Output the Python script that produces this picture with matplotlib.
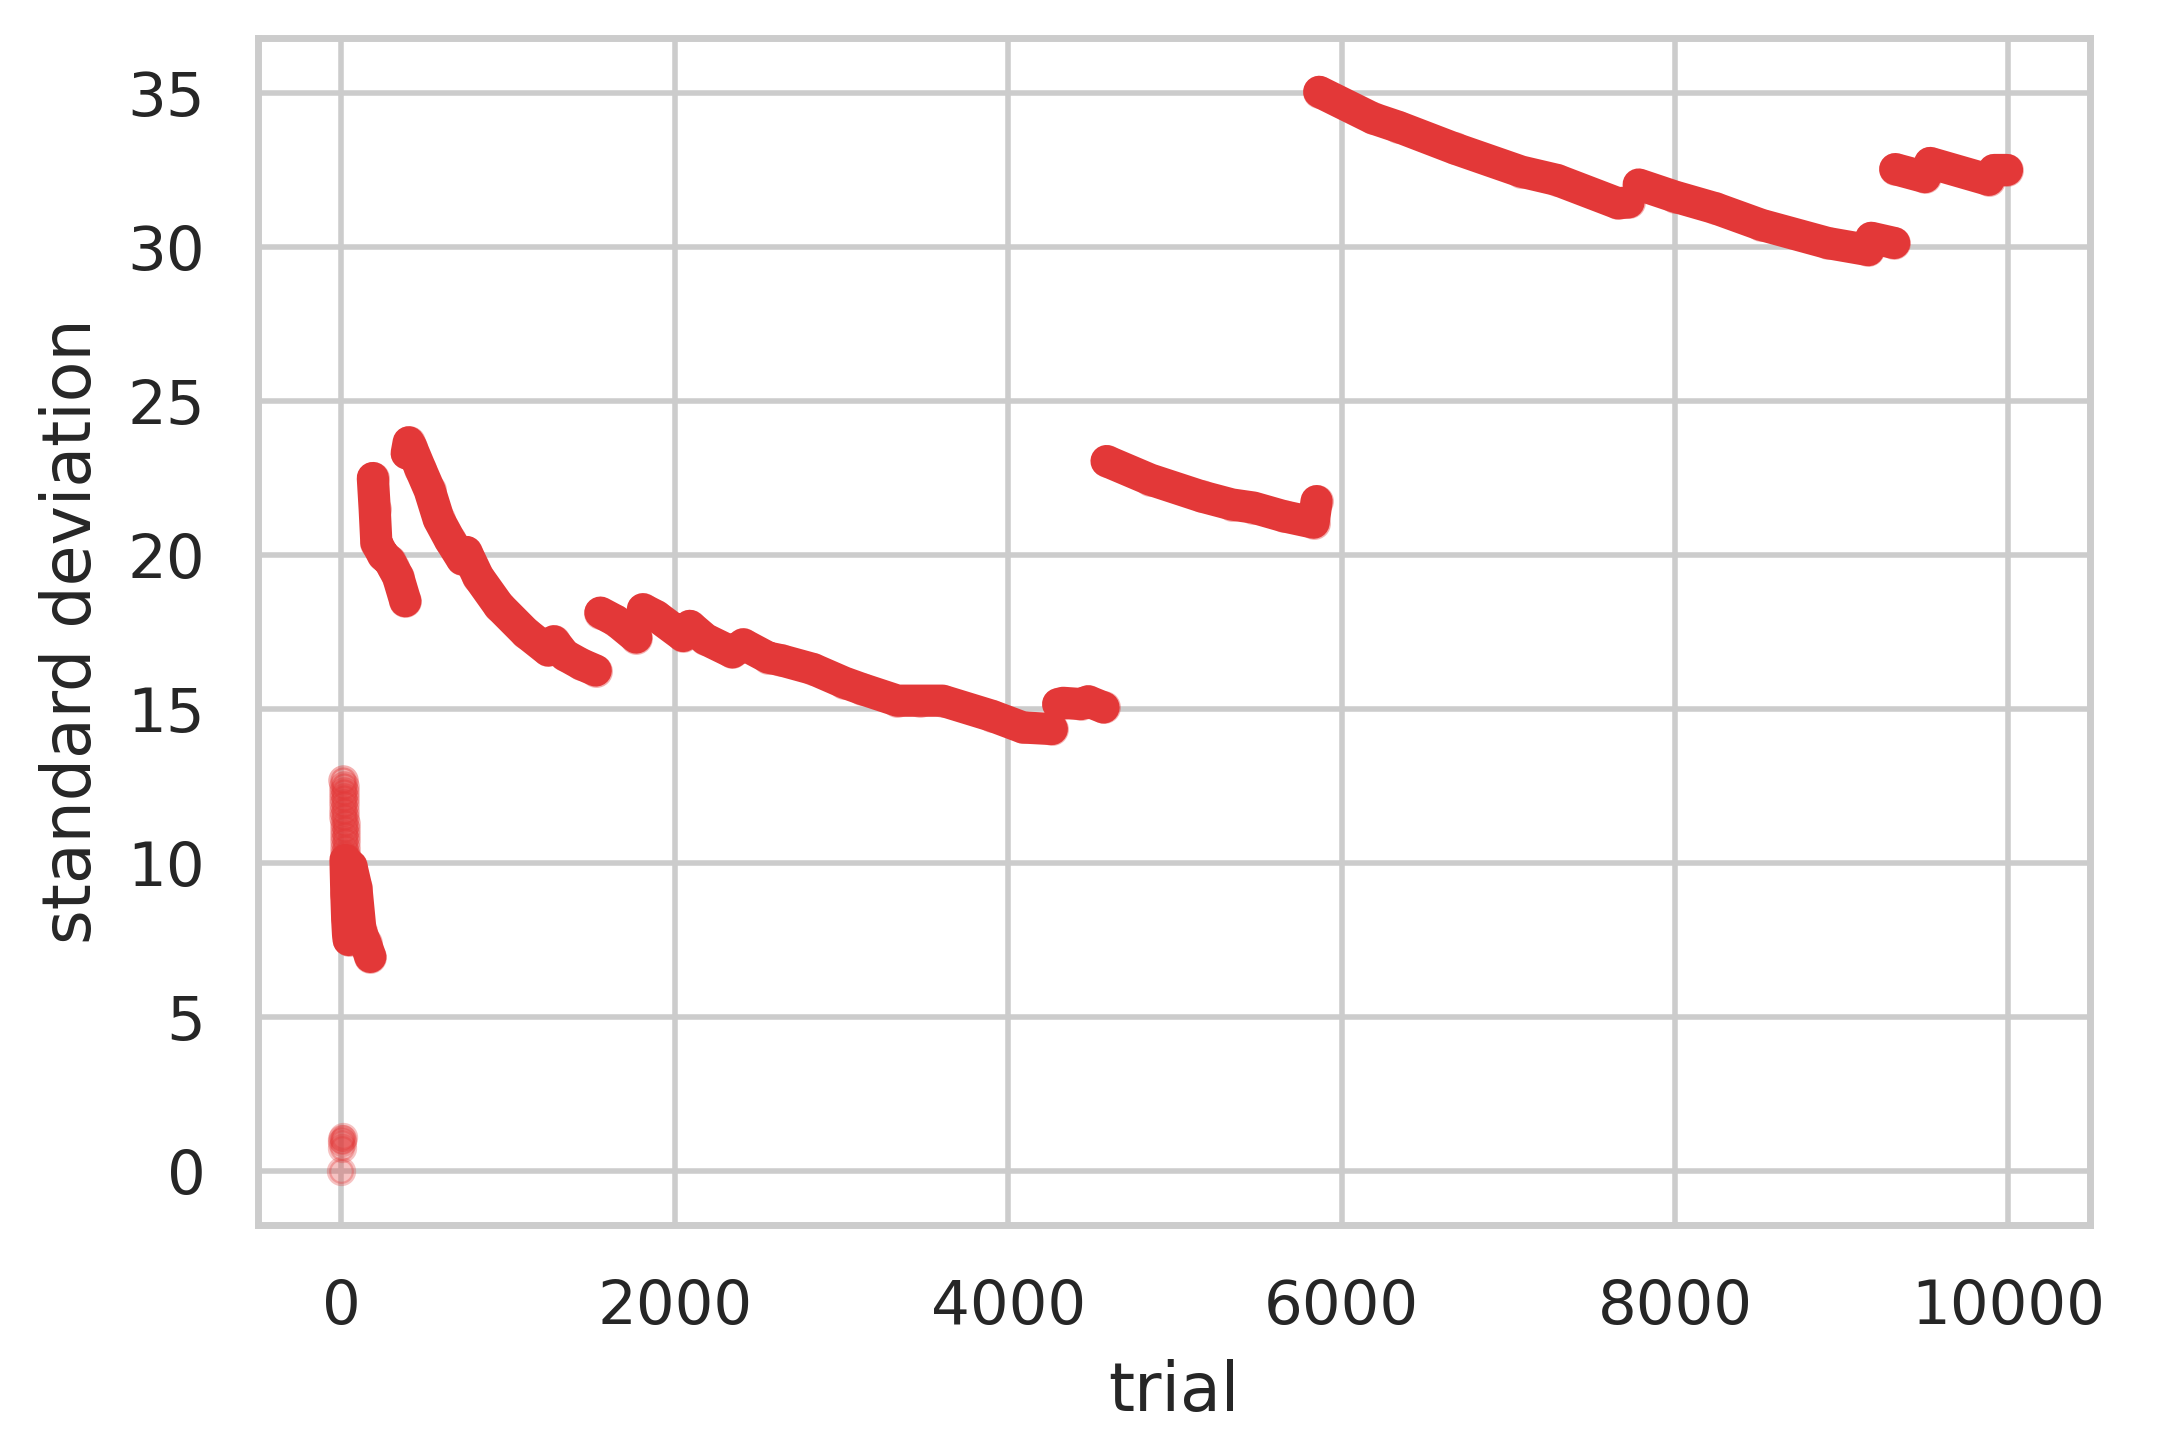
import matplotlib
matplotlib.use("Agg")
import matplotlib.pyplot as plt
import seaborn as sns

sns.set_theme(style="whitegrid")
plt.rcParams['font.family'] = ['DejaVu Sans']

RED = '#e33838'

# very first trials (std close to zero)
start_trial = [0, 2, 4, 6, 8]
start_std = [0.0, 0.75, 0.95, 1.05, 1.1]

# sparse points while the std falls fast after the first jump
drop_trial = [12, 13, 14, 15, 16, 17, 18, 19, 20, 21, 22, 23, 24]
drop_std = [12.7, 12.5, 12.3, 12.1, 11.9, 11.7, 11.5, 11.3, 11.1, 10.9, 10.7, 10.5, 10.3]

# runs between jumps (trial, std)
runs_trial = [
    [25, 30, 35, 40, 44],
    [60, 90, 115, 145, 174],
    [189, 200, 210, 250, 290, 310, 340, 384],
    [392, 404, 420, 474, 530, 584, 650, 724, 750, 820, 945, 1105, 1240, 1275, 1340,
     1440, 1526],
    [1554, 1648, 1769],
    [1809, 1888, 2050, 2090, 2183, 2346, 2411, 2560, 2640, 2828, 3015, 3123,
     3336, 3471, 3606, 3901, 4088, 4262],
    [4300, 4330, 4436, 4480, 4572],
    [4590, 4851, 5161, 5342, 5471, 5652, 5832, 5850],
    [5866, 6187, 6341, 6678, 7077, 7290, 7657, 7721],
    [7782, 7997, 8241, 8517, 8916, 9160],
    [9177, 9315],
    [9321, 9499],
    [9530, 9882],
    [9912, 9990],
]
runs_std = [
    [10.1, 9.0, 8.2, 7.7, 7.5],
    [9.9, 9.2, 7.8, 7.4, 6.95],
    [22.5, 21.5, 20.4, 20.0, 19.8, 19.6, 19.3, 18.5],
    [23.3, 23.66, 23.5, 22.8, 22.1, 21.16, 20.5, 19.86, 20.1, 19.3, 18.35, 17.48, 16.9,
     17.2, 16.75, 16.45, 16.25],
    [18.13, 17.86, 17.32],
    [18.24, 18.02, 17.37, 17.7, 17.27, 16.84, 17.1, 16.67, 16.58, 16.3, 15.86, 15.65,
     15.27, 15.27, 15.27, 14.78, 14.4, 14.35],
    [15.16, 15.2, 15.16, 15.25, 15.05],
    [23.05, 22.45, 21.9, 21.64, 21.54, 21.26, 21.05, 21.75],
    [35.04, 34.18, 33.9, 33.2, 32.45, 32.18, 31.42, 31.45],
    [32.03, 31.64, 31.26, 30.72, 30.13, 29.9],
    [30.3, 30.13],
    [32.53, 32.27],
    [32.73, 32.18],
    [32.5, 32.5],
]

fig, ax = plt.subplots(figsize=(5.44, 3.64), dpi=400)
fig.subplots_adjust(left=0.1186, right=0.9605, bottom=0.1587, top=0.974)

ax.scatter(start_trial, start_std, s=20, color=RED, alpha=0.3, linewidths=0.8)
ax.scatter(drop_trial, drop_std, s=22, color=RED, alpha=0.4, linewidths=0.8)

for t, v in zip(runs_trial, runs_std):
    ax.plot(t, v, color=RED, lw=5.8, solid_capstyle='round', solid_joinstyle='round')
    ax.scatter(t, v, s=26, color=RED, alpha=0.4, linewidths=0.8)

ax.set_xlabel('trial', fontsize=12)
ax.set_ylabel('standard deviation', fontsize=12)
ax.tick_params(labelsize=11)

fig.savefig('out.png', dpi=400)
